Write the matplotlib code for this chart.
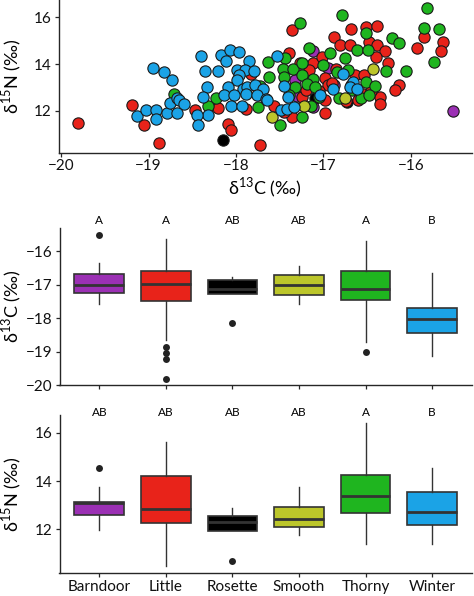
import matplotlib
matplotlib.use("Agg")
import matplotlib.pyplot as plt
from matplotlib.transforms import blended_transform_factory

plt.rcParams['font.family'] = ['Lato', 'DejaVu Sans']
plt.rcParams['mathtext.fontset'] = 'custom'
plt.rcParams['mathtext.rm'] = 'Lato'

species = ["Barndoor", "Little", "Rosette", "Smooth", "Thorny", "Winter"]
colors = ["#9B30B4", "#E8231A", "#000000", "#BCC62A", "#1FB51F", "#1BA3E6"]

# ---- scatter data (d13C, d15N) ----
barndoor_c = [-17.12, -15.52, -17.33, -16.88, -17.12, -16.95, -17.30, -16.68]
barndoor_n = [14.56, 11.99, 13.30, 13.10, 12.15, 13.85, 12.65, 13.10]

little_c = [-19.81, -19.19, -19.05, -18.88, -18.47, -18.20, -18.09, -18.06, -17.89, -17.72,
            -17.83, -17.36, -17.39, -17.57, -17.25, -17.36, -17.12, -17.16, -17.02, -16.98,
            -16.95, -16.98, -16.98, -16.88, -16.81, -16.70, -16.68, -16.85, -16.74, -16.60,
            -16.64, -16.51, -16.39, -16.48, -16.39, -16.29, -16.40, -16.26, -16.54, -16.35,
            -16.35, -16.13, -16.18, -15.93, -15.85, -15.63, -15.66, -17.27, -17.45, -17.20,
            -16.90, -16.55, -17.05, -16.45]
little_n = [11.46, 12.24, 11.39, 10.64, 12.03, 12.14, 11.43, 11.20, 12.10, 10.53,
            13.57, 15.46, 14.49, 12.20, 12.60, 11.74, 14.03, 13.74, 14.29, 13.39,
            13.10, 12.46, 11.89, 15.17, 14.81, 14.81, 15.49, 13.77, 12.43, 12.46,
            13.53, 15.60, 15.63, 14.96, 14.81, 14.57, 14.29, 14.06, 13.53, 12.60,
            12.29, 13.10, 12.89, 14.70, 15.14, 14.96, 14.57, 14.03, 11.95, 12.90,
            13.20, 12.70, 12.85, 12.85]

rosette_c = [-18.15, -17.10, -16.73]
rosette_n = [10.75, 12.55, 12.38]

smooth_c = [-17.59, -17.22, -16.43, -16.75]
smooth_n = [11.74, 12.20, 13.77, 12.55]

thorny_c = [-18.71, -18.23, -18.32, -17.75, -17.63, -17.62, -17.27, -17.17, -17.44, -17.46,
            -17.35, -17.24, -17.00, -16.92, -17.24, -17.45, -17.12, -17.19, -17.33, -17.73,
            -17.10, -16.75, -16.79, -16.61, -16.51, -16.84, -16.72, -16.82, -16.57, -17.05,
            -17.14, -17.25, -17.50, -17.39, -15.81, -15.85, -15.68, -15.74, -16.06, -16.28,
            -16.22, -16.14, -16.49, -16.51, -16.41, -16.48, -16.67]
thorny_n = [12.72, 12.57, 12.20, 12.17, 14.08, 13.43, 15.77, 14.70, 14.27, 13.77,
            13.77, 14.03, 13.96, 14.46, 13.53, 13.46, 13.35, 13.14, 13.00, 13.06,
            13.00, 14.24, 16.10, 14.60, 15.31, 13.67, 13.74, 12.53, 12.57, 12.60,
            12.20, 11.72, 11.39, 12.67, 16.41, 15.55, 15.49, 14.10, 13.70, 13.71,
            15.10, 14.91, 14.60, 13.24, 13.06, 12.67, 12.90]

winter_c = [-18.95, -18.82, -18.73, -19.13, -19.03, -18.91, -18.92, -18.79, -18.76, -18.68,
            -18.65, -18.60, -18.67, -18.40, -18.35, -18.21, -18.17, -18.07, -17.97, -18.11,
            -17.85, -17.99, -17.90, -17.79, -17.97, -17.99, -18.33, -18.38, -18.09, -17.92,
            -17.87, -17.78, -17.69, -18.14, -18.02, -17.89, -17.76, -17.66, -18.06, -17.93,
            -18.32, -18.44, -18.43, -17.53, -17.45, -17.64, -17.49, -17.42, -17.34, -17.04,
            -16.89, -16.78, -16.66, -16.69, -16.61, -17.41]
winter_n = [13.82, 13.67, 13.31, 11.79, 12.03, 12.03, 11.67, 11.89, 12.32, 12.53,
            12.46, 12.29, 11.89, 14.34, 13.71, 13.71, 14.39, 14.60, 14.50, 14.14,
            14.13, 13.74, 13.74, 13.70, 13.53, 13.31, 13.03, 12.60, 13.00, 12.92,
            13.03, 13.10, 12.92, 12.67, 12.67, 12.70, 12.67, 12.49, 12.20, 12.20,
            11.82, 11.82, 11.39, 14.34, 13.06, 12.46, 12.03, 12.10, 12.15, 12.67,
            12.92, 13.57, 13.24, 13.00, 12.92, 12.60]

# ---- box statistics ----
c_med = [-17.00, -16.99, -17.12, -17.00, -17.14, -18.02]
c_q1 = [-17.26, -17.49, -17.28, -17.31, -17.47, -18.46]
c_q3 = [-16.68, -16.60, -16.87, -16.72, -16.59, -17.69]
c_lo = [-17.57, -18.66, -17.28, -17.59, -18.71, -19.13]
c_hi = [-16.35, -15.65, -16.77, -16.45, -15.69, -16.64]
c_fliers = [[-15.52], [-18.87, -19.03, -19.21, -19.83], [-18.16], [], [-19.01], []]
c_letters = ["A", "A", "AB", "AB", "A", "B"]

n_med = [13.08, 12.86, 12.30, 12.43, 13.39, 12.72]
n_q1 = [12.61, 12.28, 11.95, 12.09, 12.69, 12.19]
n_q3 = [13.15, 14.22, 12.55, 12.91, 14.25, 13.53]
n_lo = [11.97, 10.50, 11.95, 11.75, 11.40, 11.40]
n_hi = [13.74, 15.63, 12.90, 13.75, 16.41, 14.55]
n_fliers = [[14.54], [], [10.69], [], [], []]
n_letters = ["AB", "AB", "AB", "AB", "A", "B"]

fig = plt.figure(figsize=(4.74, 5.96), dpi=100)
W, H = 474, 596
def ax_at(l, t, r, b):
    return fig.add_axes([l / W, 1 - b / H, (r - l) / W, (b - t) / H])

ax1 = ax_at(58.5, 0, 472, 152.5)
ax2 = ax_at(59.5, 228, 472, 385)
ax3 = ax_at(59.5, 415, 472, 573)

edge = "#262626"
for ax in (ax1, ax2, ax3):
    for s in ("top", "right"):
        ax.spines[s].set_visible(False)
    for s in ("left", "bottom"):
        ax.spines[s].set_color(edge)
        ax.spines[s].set_linewidth(1.0)
    ax.tick_params(length=3, width=0.9, color=edge, labelsize=11, labelcolor="#111111", pad=2)

# scatter (drawing order: rosette & barndoor beneath, winter on top)
groups = [(rosette_c, rosette_n, colors[2]), (barndoor_c, barndoor_n, colors[0]),
          (little_c, little_n, colors[1]), (thorny_c, thorny_n, colors[4]),
          (smooth_c, smooth_n, colors[3]), (winter_c, winter_n, colors[5])]
for cx, ny, col in groups:
    ax1.scatter(cx, ny, s=66, c=col, edgecolors="#1a1a1a", linewidths=0.8, zorder=3)
ax1.set_xlim(-20.03, -15.3)
ax1.set_ylim(10.22, 16.74)
ax1.set_xticks([-20, -19, -18, -17, -16])
ax1.set_yticks([12, 14, 16])
ax1.set_xticklabels(["\u221220", "\u221219", "\u221218", "\u221217", "\u221216"])
ax1.set_xlabel(r"δ$^{\mathregular{13}}$C (‰)", fontsize=13, labelpad=2)
ax1.set_ylabel(r"δ$^{\mathregular{15}}$N (‰)", fontsize=13)
ax1.yaxis.set_label_coords((24 - 58.5) / 413.5, 0.5)

def draw_box(ax, med, q1, q3, lo, hi, fliers):
    stats = []
    for i in range(len(species)):
        stats.append(dict(med=med[i], q1=q1[i], q3=q3[i], whislo=lo[i], whishi=hi[i],
                          fliers=fliers[i], label=species[i]))
    bp = ax.bxp(stats, positions=range(len(species)), widths=0.75, patch_artist=True,
                showcaps=False,
                boxprops=dict(edgecolor="#333333", linewidth=1.2),
                medianprops=dict(color="#333333", linewidth=2.0),
                whiskerprops=dict(color="#333333", linewidth=1.0),
                flierprops=dict(marker="o", markerfacecolor="#222222",
                                markeredgecolor="none", markersize=5))
    for patch, col in zip(bp["boxes"], colors):
        patch.set_facecolor(col)
    ax.set_xlim(-0.6, 5.6)
    ax.set_xticks(range(len(species)))
    return blended_transform_factory(ax.transData, ax.transAxes)

tr2 = draw_box(ax2, c_med, c_q1, c_q3, c_lo, c_hi, c_fliers)
ax2.set_ylim(-20.0, -15.31)
ax2.set_yticks([-20, -19, -18, -17, -16])
ax2.set_yticklabels(["\u221220", "\u221219", "\u221218", "\u221217", "\u221216"])
ax2.set_xticklabels([])
ax2.set_ylabel(r"δ$^{\mathregular{13}}$C (‰)", fontsize=13)
ax2.yaxis.set_label_coords((24 - 59.5) / 412.5, 0.5)
for i, t in enumerate(c_letters):
    ax2.text(i, 1.05, t, transform=tr2, ha="center", va="center", fontsize=8.5, clip_on=False)

tr3 = draw_box(ax3, n_med, n_q1, n_q3, n_lo, n_hi, n_fliers)
ax3.set_ylim(10.2, 16.73)
ax3.set_yticks([12, 14, 16])
ax3.set_xticklabels(species, fontsize=11)
ax3.set_ylabel(r"δ$^{\mathregular{15}}$N (‰)", fontsize=13)
ax3.yaxis.set_label_coords((24 - 59.5) / 412.5, 0.5)
for i, t in enumerate(n_letters):
    ax3.text(i, 1.017, t, transform=tr3, ha="center", va="center", fontsize=8.5, clip_on=False)

fig.savefig("out.png", dpi=100)
